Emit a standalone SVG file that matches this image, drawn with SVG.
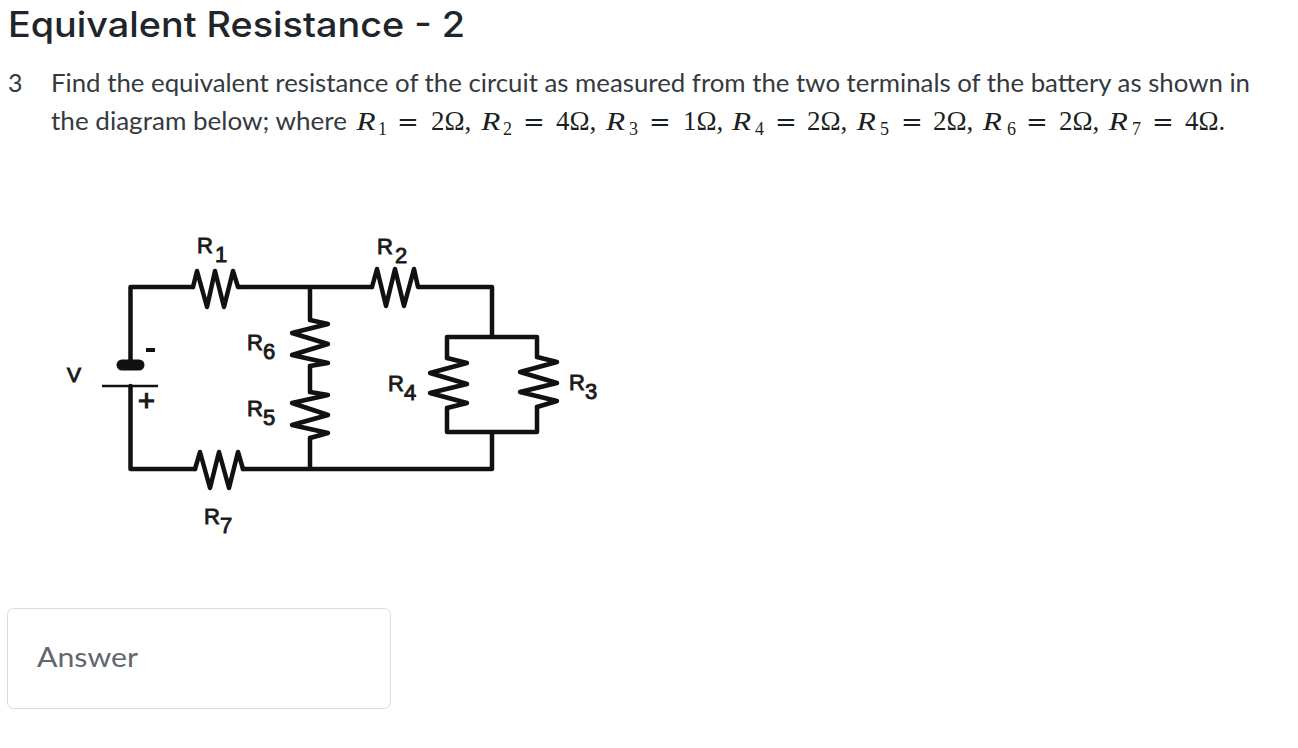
<svg xmlns="http://www.w3.org/2000/svg" width="1298" height="748" viewBox="0 0 1298 748">
<style>
.title{font:500 35px Inter,"Noto Sans",sans-serif;fill:#212529}
.body{font:400 25px Lato,"Noto Sans",sans-serif;fill:#343a40}
.ans{font:400 27px Lato,"Noto Sans",sans-serif;fill:#60676e}
.m{font:400 27px "Liberation Serif",serif;fill:#1c1f22}
.eq{font:400 26px "DejaVu Serif",serif;fill:#1c1f22}
.mi{font:italic 400 26px "Liberation Serif",serif;fill:#1c1f22}
.ms{font:400 18px "Liberation Serif",serif;fill:#1c1f22}
.w{fill:none;stroke:#111;stroke-width:4.500;stroke-linejoin:round;stroke-linecap:round}
.lb{font:400 22px "Liberation Sans",Arial,sans-serif;fill:#1a1a1a;stroke:#1a1a1a;stroke-width:.9}
</style>
<rect width="1298" height="748" fill="#fff"/>
<g id="heading">
<text class="title" x="8" y="37" textLength="457" lengthAdjust="spacingAndGlyphs">Equivalent Resistance - 2</text>
<text class="body" x="8" y="92">3</text>
<text class="body" x="51" y="92" textLength="1199" lengthAdjust="spacingAndGlyphs">Find the equivalent resistance of the circuit as measured from the two terminals of the battery as shown in</text>
<text class="body" x="51" y="130" textLength="296" lengthAdjust="spacingAndGlyphs">the diagram below; where</text>
</g>
<g id="equation">
<text class="mi" y="130" transform="scale(1.2 1)"><tspan x="297">R</tspan><tspan x="401">R</tspan><tspan x="505">R</tspan><tspan x="610">R</tspan><tspan x="714">R</tspan><tspan x="819">R</tspan><tspan x="924">R</tspan></text>
<text class="ms" y="135"><tspan x="378">1</tspan><tspan x="503">2</tspan><tspan x="629">3</tspan><tspan x="755">4</tspan><tspan x="880">5</tspan><tspan x="1007">6</tspan><tspan x="1132">7</tspan></text>
<text class="eq" y="131"><tspan x="397">=</tspan><tspan x="523">=</tspan><tspan x="649">=</tspan><tspan x="775">=</tspan><tspan x="901">=</tspan><tspan x="1026">=</tspan><tspan x="1152">=</tspan></text>
<text class="m" y="130"><tspan x="431">2Ω,</tspan><tspan x="556">4Ω,</tspan><tspan x="683">1Ω,</tspan><tspan x="807">2Ω,</tspan><tspan x="933">2Ω,</tspan><tspan x="1059">2Ω,</tspan><tspan x="1185">4Ω.</tspan></text>
</g>
<g id="connectors">
<path class="w" d="M130.500 365V287H193M240 287H372M419 287H492V337M130.500 386V469H195M243 469H492V432M310 287V320M310 366V392M310 438V469M447 337H537M447 337V358M447 408V432H537V407M537 337V357"/>
</g>
<g id="battery">
<path d="M122 365H139" fill="none" stroke="#111" stroke-width="11" stroke-linecap="round"/>
<path d="M102 386H158" fill="none" stroke="#111" stroke-width="2.500"/>
<path d="M146 350H155" fill="none" stroke="#111" stroke-width="4"/>
<text class="lb" x="138" y="411" style="font-size:29px;stroke-width:1.200">+</text>
<text class="lb" x="67" y="382" style="font-size:21px;stroke-width:1">V</text>
</g>
<g id="R1"><path class="w" d="M193 287L197 271L207 307L215 271L224 307L233 271L238 287H240"/>
<text class="lb" x="197" y="253">R<tspan dx="2" dy="9">1</tspan></text></g>
<g id="R2"><path class="w" d="M372 287L377 269L386 306L395 269L404 306L414 269L418 287H419"/>
<text class="lb" x="377" y="254">R<tspan dx="2" dy="9">2</tspan></text></g>
<g id="R6"><path class="w" d="M310 320L328 324L292 333L328 344L292 355L328 363L310 366"/>
<text class="lb" x="247" y="350">R<tspan dx="0" dy="9">6</tspan></text></g>
<g id="R5"><path class="w" d="M310 392L328 395L292 403L328 415L292 425L328 433L310 438"/>
<text class="lb" x="247" y="416">R<tspan dx="0" dy="9">5</tspan></text></g>
<g id="R7"><path class="w" d="M195 469L200 452L210 488L219 452L229 488L238 452L243 469"/>
<text class="lb" x="204" y="524">R<tspan dy="9">7</tspan></text></g>
<g id="R4"><path class="w" d="M447 358L467 363L430 373L467 384L430 393L467 403L447 408"/>
<text class="lb" x="388" y="391">R<tspan dy="9">4</tspan></text></g>
<g id="R3"><path class="w" d="M537 357L557 362L520 372L557 383L520 392L557 401L537 407"/>
<text class="lb" x="569" y="390">R<tspan dy="9">3</tspan></text></g>
<g id="answer">
<rect x="7.500" y="608.500" width="383" height="100" rx="6" fill="#fff" stroke="#d9dce0"/>
<text class="ans" x="37" y="667" textLength="101" lengthAdjust="spacingAndGlyphs">Answer</text>
</g>
</svg>
